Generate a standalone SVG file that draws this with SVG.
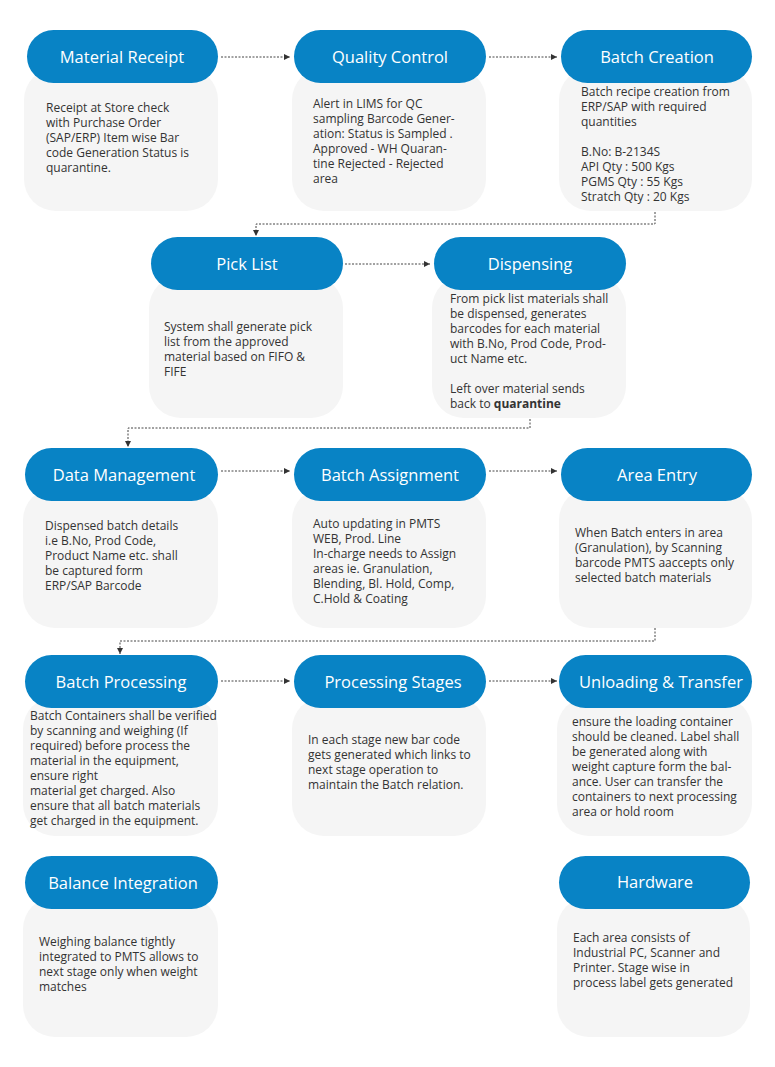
<svg xmlns="http://www.w3.org/2000/svg" width="775" height="1067" viewBox="0 0 775 1067">
<defs>
<style>
.b{fill:#f5f5f5}
.h{fill:#0883c5}
.t{font-family:"Open Sans",sans-serif;font-size:16.5px;fill:#fff;text-anchor:middle}
.x{font-family:"Open Sans",sans-serif;font-size:12px;fill:#333}
.c{fill:none;stroke:#444;stroke-width:1;stroke-dasharray:2,1.5;marker-end:url(#a)}
</style>
<marker id="a" viewBox="0 0 6 6" refX="6" refY="3" markerWidth="6" markerHeight="6" orient="auto"><path d="M0,0L6,3L0,6z" fill="#333"/></marker>
</defs>
<rect width="775" height="1067" fill="#fff"/>
<g id="connectors">
<path class="c" d="M221 57H290"/>
<path class="c" d="M489 57H557"/>
<path class="c" d="M655 212V224H256V236"/>
<path class="c" d="M345 264H430"/>
<path class="c" d="M530 419V428H128V447"/>
<path class="c" d="M221 471H290"/>
<path class="c" d="M489 471H557"/>
<path class="c" d="M655 628V641H120V654"/>
<path class="c" d="M221 681H290"/>
<path class="c" d="M489 681H557"/>
</g>
<g id="n1"><rect class="b" x="24" y="68" width="194" height="143" rx="32"/><rect class="h" x="27" y="30" width="191" height="53" rx="26.5"/><text class="t" x="122" y="63">Material Receipt</text>
<text class="x"><tspan x="46" y="112">Receipt at Store check</tspan><tspan x="46" y="127">with Purchase Order</tspan><tspan x="46" y="142">(SAP/ERP) Item wise Bar</tspan><tspan x="46" y="157">code Generation Status is</tspan><tspan x="46" y="172">quarantine.</tspan></text></g>
<g id="n2"><rect class="b" x="292" y="68" width="194" height="143" rx="32"/><rect class="h" x="294" y="30" width="192" height="53" rx="26.5"/><text class="t" x="390" y="63">Quality Control</text>
<text class="x"><tspan x="313" y="108">Alert in LIMS for QC</tspan><tspan x="313" y="123">sampling Barcode Gener-</tspan><tspan x="313" y="138">ation: Status is Sampled .</tspan><tspan x="313" y="153">Approved - WH Quaran-</tspan><tspan x="313" y="168">tine Rejected - Rejected</tspan><tspan x="313" y="183">area</tspan></text></g>
<g id="n3"><rect class="b" x="559" y="68" width="193" height="143" rx="32"/><rect class="h" x="561" y="30" width="191" height="53" rx="26.5"/><text class="t" x="657" y="63">Batch Creation</text>
<text class="x"><tspan x="581" y="96">Batch recipe creation from</tspan><tspan x="581" y="111">ERP/SAP with required</tspan><tspan x="581" y="126">quantities</tspan><tspan x="581" y="156">B.No: B-2134S</tspan><tspan x="581" y="171">API Qty : 500 Kgs</tspan><tspan x="581" y="186">PGMS Qty : 55 Kgs</tspan><tspan x="581" y="201">Stratch Qty : 20 Kgs</tspan></text></g>
<g id="n4"><rect class="b" x="149" y="276" width="194" height="142" rx="32"/><rect class="h" x="151" y="237" width="192" height="53" rx="26.5"/><text class="t" x="247" y="270">Pick List</text>
<text class="x"><tspan x="164" y="331">System shall generate pick</tspan><tspan x="164" y="346">list from the approved</tspan><tspan x="164" y="361">material based on  FIFO &amp;</tspan><tspan x="164" y="376">FIFE</tspan></text></g>
<g id="n5"><rect class="b" x="432" y="276" width="194" height="142" rx="32"/><rect class="h" x="434" y="237" width="192" height="53" rx="26.5"/><text class="t" x="530" y="270">Dispensing</text>
<text class="x"><tspan x="450" y="303">From pick list  materials shall</tspan><tspan x="450" y="318">be dispensed, generates</tspan><tspan x="450" y="333">barcodes for each material</tspan><tspan x="450" y="348">with  B.No, Prod Code, Prod-</tspan><tspan x="450" y="363">uct Name etc.</tspan><tspan x="450" y="393">Left over material sends</tspan><tspan x="450" y="408">back to <tspan font-weight="bold">quarantine</tspan></tspan></text></g>
<g id="n6"><rect class="b" x="23" y="488" width="195" height="140" rx="32"/><rect class="h" x="25" y="448" width="193" height="53" rx="26.5"/><text class="t" x="124" y="481">Data Management</text>
<text class="x"><tspan x="45" y="530">Dispensed batch details</tspan><tspan x="45" y="545">i.e B.No, Prod Code,</tspan><tspan x="45" y="560">Product Name etc. shall</tspan><tspan x="45" y="575">be captured form</tspan><tspan x="45" y="590">ERP/SAP Barcode</tspan></text></g>
<g id="n7"><rect class="b" x="292" y="488" width="194" height="140" rx="32"/><rect class="h" x="294" y="448" width="192" height="53" rx="26.5"/><text class="t" x="390" y="481">Batch Assignment</text>
<text class="x"><tspan x="313" y="528">Auto updating in PMTS</tspan><tspan x="313" y="543">WEB, Prod. Line</tspan><tspan x="313" y="558">In-charge needs to Assign</tspan><tspan x="313" y="573">areas ie. Granulation,</tspan><tspan x="313" y="588">Blending, Bl. Hold, Comp,</tspan><tspan x="313" y="603">C.Hold &amp; Coating</tspan></text></g>
<g id="n8"><rect class="b" x="559" y="488" width="193" height="140" rx="32"/><rect class="h" x="561" y="448" width="191" height="53" rx="26.5"/><text class="t" x="657" y="481">Area Entry</text>
<text class="x"><tspan x="575" y="537">When Batch enters in area</tspan><tspan x="575" y="552">(Granulation), by Scanning</tspan><tspan x="575" y="567">barcode PMTS aaccepts only</tspan><tspan x="575" y="582">selected batch materials</tspan></text></g>
<g id="n9"><rect class="b" x="23" y="697" width="195" height="139" rx="32"/><rect class="h" x="25" y="655" width="193" height="53" rx="26.5"/><text class="t" x="121" y="688">Batch Processing</text>
<text class="x" font-size="11.5"><tspan x="30" y="720">Batch Containers shall be verified</tspan><tspan x="30" y="735">by scanning and weighing (If</tspan><tspan x="30" y="750">required) before process the</tspan><tspan x="30" y="765">material in the equipment,</tspan><tspan x="30" y="780">ensure right</tspan><tspan x="30" y="795">material get charged.  Also</tspan><tspan x="30" y="810">ensure that all batch materials</tspan><tspan x="30" y="825">get charged in the equipment.</tspan></text></g>
<g id="n10"><rect class="b" x="292" y="697" width="194" height="139" rx="32"/><rect class="h" x="294" y="655" width="192" height="53" rx="26.5"/><text class="t" x="393" y="688">Processing Stages</text>
<text class="x"><tspan x="308" y="744">In each stage new bar code</tspan><tspan x="308" y="759">gets generated which links to</tspan><tspan x="308" y="774">next stage operation to</tspan><tspan x="308" y="789">maintain the Batch relation.</tspan></text></g>
<g id="n11"><rect class="b" x="557" y="697" width="195" height="139" rx="32"/><rect class="h" x="559" y="655" width="193" height="53" rx="26.5"/><text class="t" x="661" y="688">Unloading &amp; Transfer</text>
<text class="x"><tspan x="572" y="726">ensure the loading container</tspan><tspan x="572" y="741">should be cleaned. Label shall</tspan><tspan x="572" y="756">be generated along with</tspan><tspan x="572" y="771">weight capture form the bal-</tspan><tspan x="572" y="786">ance.   User can transfer the</tspan><tspan x="572" y="801">containers to next processing</tspan><tspan x="572" y="816">area or hold room</tspan></text></g>
<g id="n12"><rect class="b" x="23" y="897" width="195" height="140" rx="32"/><rect class="h" x="25" y="856" width="193" height="53" rx="26.5"/><text class="t" x="123" y="889">Balance Integration</text>
<text class="x"><tspan x="39" y="946">Weighing balance tightly</tspan><tspan x="39" y="961">integrated to PMTS allows to</tspan><tspan x="39" y="976">next stage only when weight</tspan><tspan x="39" y="991">matches</tspan></text></g>
<g id="n13"><rect class="b" x="557" y="897" width="193" height="140" rx="32"/><rect class="h" x="559" y="856" width="191" height="53" rx="26.5"/><text class="t" x="655" y="888">Hardware</text>
<text class="x"><tspan x="573" y="942">Each area consists of</tspan><tspan x="573" y="957">Industrial PC, Scanner and</tspan><tspan x="573" y="972">Printer. Stage wise  in</tspan><tspan x="573" y="987">process label gets generated</tspan></text></g>
</svg>
